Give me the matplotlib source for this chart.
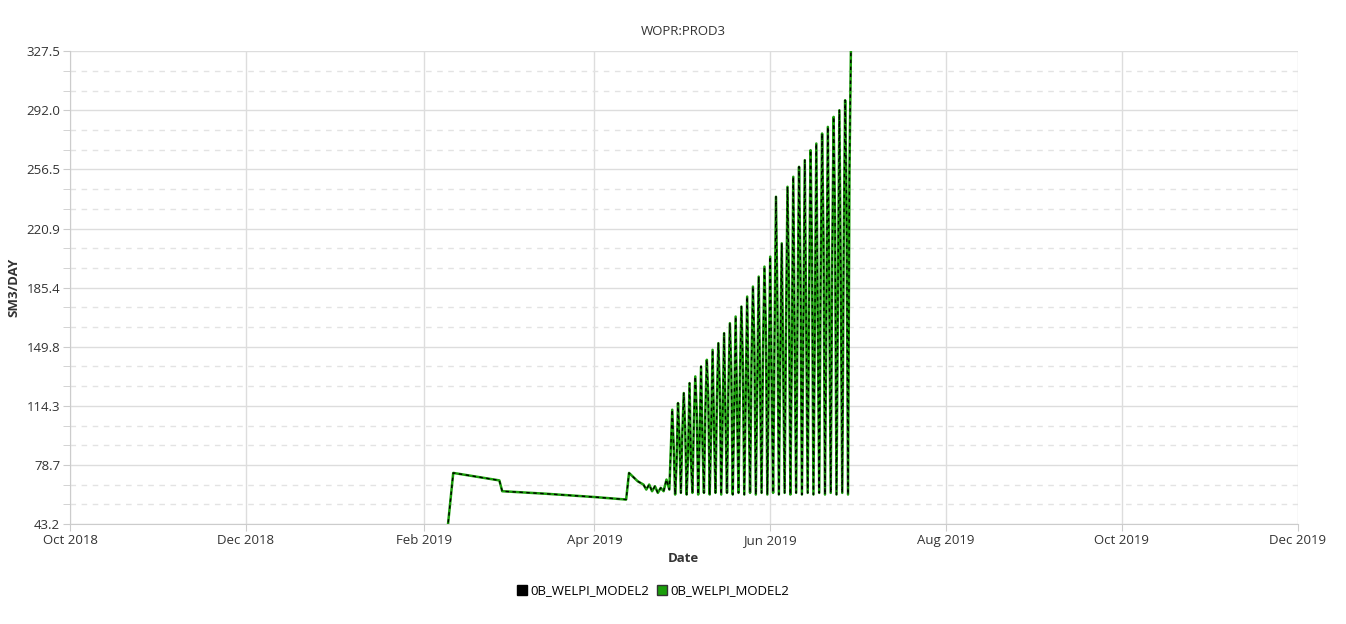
import matplotlib
matplotlib.use("Agg")
import matplotlib.pyplot as plt
import matplotlib.dates as mdates
import pandas as pd

# early part of the curve (irregular sampling)
early_dates = ["2019-02-09", "2019-02-11", "2019-02-20", "2019-02-27", "2019-02-28",
               "2019-03-15", "2019-04-01", "2019-04-12", "2019-04-13", "2019-04-16",
               "2019-04-18", "2019-04-19", "2019-04-20", "2019-04-21", "2019-04-22",
               "2019-04-23", "2019-04-24", "2019-04-25", "2019-04-26", "2019-04-27"]
early_vals = [40.0, 74.0, 71.5, 69.5, 63.0,
              61.5, 59.5, 58.0, 74.0, 69.0,
              67.0, 64.0, 67.0, 63.0, 66.0,
              62.0, 65.0, 63.0, 70.0, 64.0]

# oscillating part, Apr 28 - Jun 29 2019, 12-hourly: peak, mid, low, mid per 2-day cycle
osc_start = "2019-04-28"
peaks = [112, 116, 122, 128, 132, 138, 142, 148, 152, 158, 164, 168, 174, 180, 186, 192,
         198, 204, 240, 212, 246, 252, 258, 262, 268, 272, 278, 282, 288, 292, 298]
mids_a = [90, 95, 100, 82, 110, 92, 120, 100, 125, 105, 135, 112, 140, 118, 150, 125,
          160, 130, 175, 140, 185, 150, 195, 160, 205, 170, 215, 180, 225, 190, 235]
lows = [61, 62, 61, 62, 61, 62, 61, 62, 61, 62, 61, 62, 61, 62, 61, 62,
        61, 62, 61, 62, 61, 62, 61, 62, 61, 62, 61, 62, 61, 62, 61]
mids_b = [80, 98, 85, 105, 95, 112, 100, 118, 108, 125, 112, 132, 120, 140, 128, 148,
          135, 155, 145, 165, 150, 172, 160, 180, 168, 190, 175, 200, 182, 210, 255]
last_val = 327.5

y_ticks = [43.2, 78.7, 114.3, 149.8, 185.4, 220.9, 256.5, 292.0, 327.5]
series_name = "0B_WELPI_MODEL2"

osc_vals = []
for p, a, l, b in zip(peaks, mids_a, lows, mids_b):
    osc_vals += [p, a, l, b]
osc_vals.append(last_val)

dates = list(pd.to_datetime(early_dates)) + list(pd.date_range(osc_start, periods=len(osc_vals), freq="12h"))
vals = early_vals + osc_vals

plt.rcParams['font.family'] = ['Open Sans', 'DejaVu Sans']
fig = plt.figure(figsize=(13.46, 6.24), dpi=100)
ax = fig.add_axes([0.052, 0.160, 0.912, 0.758])

ax.plot(dates, vals, color="#1a9e0a", lw=1.8, zorder=3)
ax.plot(dates, vals, color="black", lw=1.0, ls=(0, (2.5, 2.5)), zorder=4)

ax.set_xlim(pd.Timestamp("2018-10-01"), pd.Timestamp("2019-12-01"))
ax.set_ylim(y_ticks[0], y_ticks[-1])
ax.set_yticks(y_ticks)
ax.set_yticklabels([f"{v:.1f}" for v in y_ticks])
minor = []
for a, b in zip(y_ticks[:-1], y_ticks[1:]):
    minor += [a + (b - a) / 3, a + 2 * (b - a) / 3]
ax.set_yticks(minor, minor=True)
ax.xaxis.set_major_locator(mdates.MonthLocator(bymonth=[2, 4, 6, 8, 10, 12]))
ax.xaxis.set_major_formatter(mdates.DateFormatter("%b %Y"))

ax.grid(True, which="major", color="#dddddd", lw=1)
ax.grid(True, which="minor", axis="y", color="#e3e3e3", lw=1, ls=(0, (4, 4)))
ax.set_axisbelow(True)
for s in ["top", "right"]:
    ax.spines[s].set_visible(False)
for s in ["left", "bottom"]:
    ax.spines[s].set_color("#cccccc")
ax.tick_params(axis="both", which="major", colors="#cccccc", labelcolor="#333333", labelsize=9.5, length=5, pad=2)
ax.tick_params(axis="y", which="minor", colors="#cccccc", length=5)

ax.set_title("WOPR:PROD3", fontsize=9.5, color="#333333", pad=12)
ax.set_xlabel("Date", fontsize=9.5, fontweight="bold", color="#333333", labelpad=4)
ax.set_ylabel("SM3/DAY", fontsize=9.5, fontweight="bold", color="#333333", labelpad=4)

h1 = plt.Line2D([], [], marker="s", ls="", color="black", markersize=7)
h2 = plt.Line2D([], [], marker="s", ls="", color="#1a9e0a", markeredgecolor="#333333", markersize=7)
fig.legend([h1, h2], [series_name, series_name], loc="center", bbox_to_anchor=(0.485, 0.053),
           ncol=2, frameon=False, fontsize=9.5, handletextpad=0.2, columnspacing=0.6, handlelength=0.8)

fig.savefig("out.png", dpi=100)
